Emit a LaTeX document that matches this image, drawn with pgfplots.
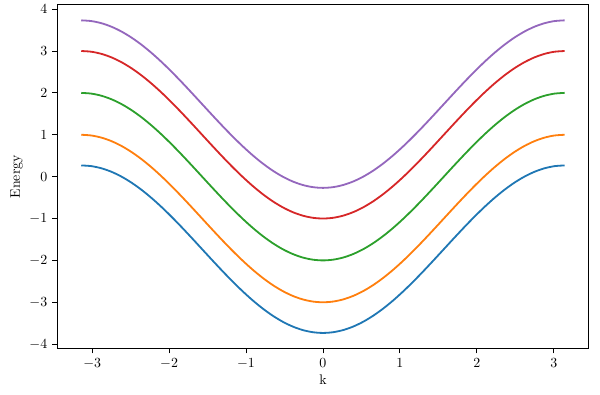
\documentclass[border=0pt]{standalone}
\usepackage{pgfplots}
\usepackage{pgfplotstable}
\pgfplotsset{compat=1.18}
\definecolor{c0}{HTML}{1F77B4}
\definecolor{c1}{HTML}{FF7F0E}
\definecolor{c2}{HTML}{2CA02C}
\definecolor{c3}{HTML}{D62728}
\definecolor{c4}{HTML}{9467BD}
\pgfplotstableread{
k b0 b1 b2 b3 b4
-3.14159 0.26795 1 2 3 3.73205
-3.01069 0.25084 0.98289 1.98289 2.98289 3.71494
-2.87979 0.19980 0.93185 1.93185 2.93185 3.66390
-2.74889 0.11571 0.84776 1.84776 2.84776 3.57981
-2.61799 0 0.73205 1.73205 2.73205 3.46410
-2.48709 -0.14534 0.58671 1.58671 2.58671 3.31876
-2.35619 -0.31784 0.41421 1.41421 2.41421 3.14626
-2.22529 -0.51453 0.21752 1.21752 2.21752 2.94957
-2.09440 -0.73205 0 1 2 2.73205
-1.96350 -0.96668 -0.23463 0.76537 1.76537 2.49742
-1.83260 -1.21441 -0.48236 0.51764 1.51764 2.24969
-1.70170 -1.47100 -0.73895 0.26105 1.26105 1.99310
-1.57080 -1.73205 -1 0 1 1.73205
-1.43990 -1.99310 -1.26105 -0.26105 0.73895 1.47100
-1.30900 -2.24969 -1.51764 -0.51764 0.48236 1.21441
-1.17810 -2.49742 -1.76537 -0.76537 0.23463 0.96668
-1.04720 -2.73205 -2 -1 0 0.73205
-0.91630 -2.94957 -2.21752 -1.21752 -0.21752 0.51453
-0.78540 -3.14626 -2.41421 -1.41421 -0.41421 0.31784
-0.65450 -3.31876 -2.58671 -1.58671 -0.58671 0.14534
-0.52360 -3.46410 -2.73205 -1.73205 -0.73205 0
-0.39270 -3.57981 -2.84776 -1.84776 -0.84776 -0.11571
-0.26180 -3.66390 -2.93185 -1.93185 -0.93185 -0.19980
-0.13090 -3.71494 -2.98289 -1.98289 -0.98289 -0.25084
0 -3.73205 -3 -2 -1 -0.26795
0.13090 -3.71494 -2.98289 -1.98289 -0.98289 -0.25084
0.26180 -3.66390 -2.93185 -1.93185 -0.93185 -0.19980
0.39270 -3.57981 -2.84776 -1.84776 -0.84776 -0.11571
0.52360 -3.46410 -2.73205 -1.73205 -0.73205 0
0.65450 -3.31876 -2.58671 -1.58671 -0.58671 0.14534
0.78540 -3.14626 -2.41421 -1.41421 -0.41421 0.31784
0.91630 -2.94957 -2.21752 -1.21752 -0.21752 0.51453
1.04720 -2.73205 -2 -1 0 0.73205
1.17810 -2.49742 -1.76537 -0.76537 0.23463 0.96668
1.30900 -2.24969 -1.51764 -0.51764 0.48236 1.21441
1.43990 -1.99310 -1.26105 -0.26105 0.73895 1.47100
1.57080 -1.73205 -1 0 1 1.73205
1.70170 -1.47100 -0.73895 0.26105 1.26105 1.99310
1.83260 -1.21441 -0.48236 0.51764 1.51764 2.24969
1.96350 -0.96668 -0.23463 0.76537 1.76537 2.49742
2.09440 -0.73205 0 1 2 2.73205
2.22529 -0.51453 0.21752 1.21752 2.21752 2.94957
2.35619 -0.31784 0.41421 1.41421 2.41421 3.14626
2.48709 -0.14534 0.58671 1.58671 2.58671 3.31876
2.61799 0 0.73205 1.73205 2.73205 3.46410
2.74889 0.11571 0.84776 1.84776 2.84776 3.57981
2.87979 0.19980 0.93185 1.93185 2.93185 3.66390
3.01069 0.25084 0.98289 1.98289 2.98289 3.71494
3.14159 0.26795 1 2 3 3.73205
}\bands
\begin{document}
\begin{tikzpicture}
\begin{axis}[
  scale only axis,
  width=382pt, height=247pt,
  xmin=-3.4558, xmax=3.4558,
  ymin=-4.1053, ymax=4.1053,
  xtick={-3,-2,-1,0,1,2,3},
  ytick={-4,-3,-2,-1,0,1,2,3,4},
  tick pos=left,
  tick align=outside,
  major tick length=3.5pt,
  tick style={black, line width=0.6pt},
  axis line style={line width=0.6pt},
  xlabel={k}, ylabel={Energy},
  xlabel style={yshift=2pt},
  ylabel style={yshift=-2pt},
  every axis plot/.append style={line width=1.3pt, no markers, smooth},
]
\addplot[c0] table[x=k,y=b0]{\bands};
\addplot[c1] table[x=k,y=b1]{\bands};
\addplot[c2] table[x=k,y=b2]{\bands};
\addplot[c3] table[x=k,y=b3]{\bands};
\addplot[c4] table[x=k,y=b4]{\bands};
\end{axis}
\path ([xshift=-41pt,yshift=-33pt]current axis.south west) rectangle ([xshift=8pt,yshift=3pt]current axis.north east);
\end{tikzpicture}
\end{document}
